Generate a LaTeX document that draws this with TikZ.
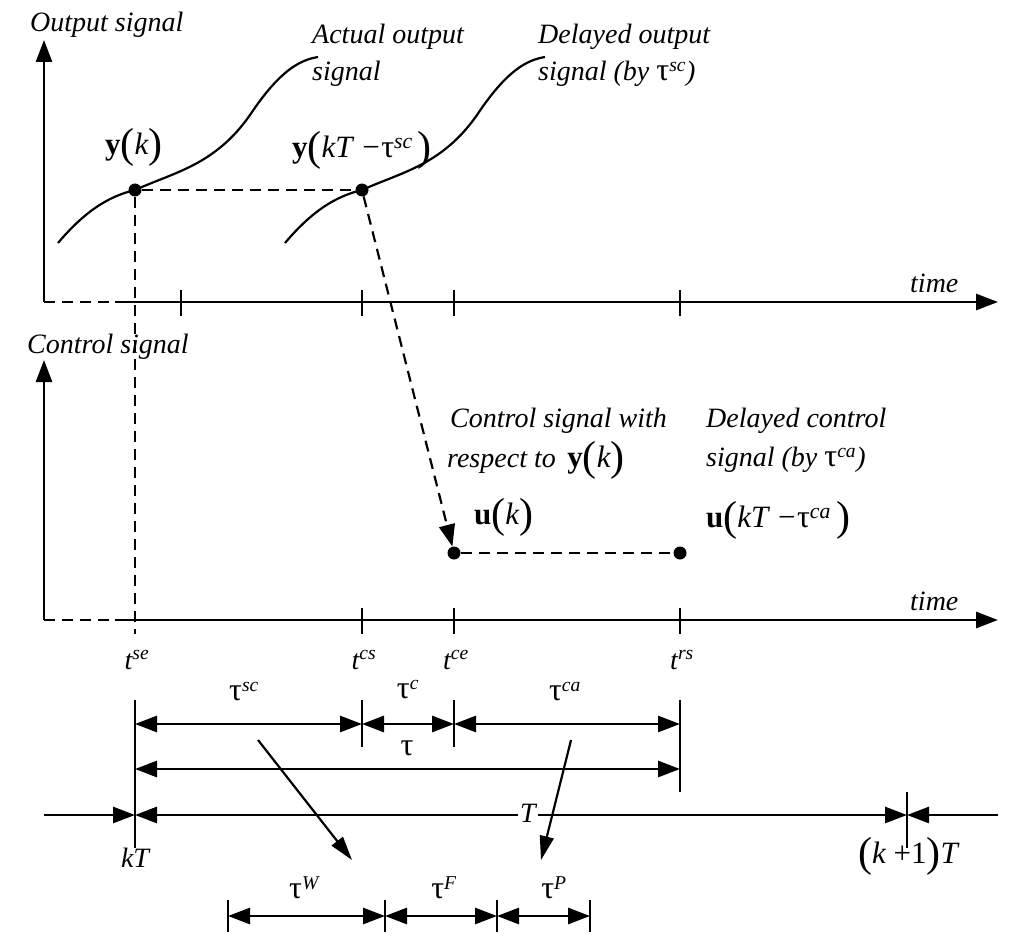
\documentclass[tikz,border=0pt]{standalone}
\usepackage{fontspec}
\setmainfont{Liberation Serif}
\usetikzlibrary{arrows.meta}
\newcommand{\tu}{{\upshape\fontsize{32}{32}\selectfont τ}}
\newcommand{\sups}[1]{\textsuperscript{\itshape #1}}
\newcommand{\lp}{{\upshape\fontsize{42}{42}\selectfont\raisebox{-3pt}{(}}}
\newcommand{\rp}{{\upshape\fontsize{42}{42}\selectfont\raisebox{-3pt}{)}}}
\newcommand{\bv}[1]{\textbf{\upshape #1}}
\tikzset{>={Triangle[length=22pt,width=16pt]}}
\begin{document}
\begin{tikzpicture}[x=1pt,y=-1pt,
  ax/.style={line width=2.8pt,->},
  thk/.style={line width=2.2pt},
  dsh/.style={line width=2.2pt,dash pattern=on 11pt off 7pt},
  dim/.style={line width=2.8pt,<->},
  txt/.style={font=\fontsize{28}{32}\selectfont\itshape,inner sep=0pt},
  big/.style={font=\fontsize{31}{32}\selectfont\itshape,inner sep=0pt},
  dot/.style={circle,fill=black,minimum size=13pt,inner sep=0pt}]
\useasboundingbox (0,0) rectangle (1019,941);
% top axis
\coordinate (o1) at (44,302); \coordinate (o1s) at (115,302);
\coordinate (e1) at (998,302); \coordinate (v1) at (44,40);
\draw[ax] (o1) -- (v1);
\draw[ax] (o1s) -- (e1);
\draw[dsh] (o1) -- (o1s);
\foreach \x in {181,362,454,680} \draw[thk] (\x,290) -- (\x,316);
% curves
\draw[thk] (58,243) .. controls (90,205) and (115,195) .. (135,190) .. controls (175,172) and (215,165) .. (250,115) .. controls (280,70) and (300,60) .. (318,57);
\draw[thk] (285,243) .. controls (317,205) and (342,195) .. (362,190) .. controls (402,172) and (442,165) .. (477,115) .. controls (507,70) and (527,60) .. (545,57);
\node[dot] (yk) at (135,190) {};
\node[dot] (yd) at (362,190) {};
\node[txt,anchor=west] (l1) at (30,25) {Output signal};
\node[txt,anchor=west] (l2) at (312,37) {Actual output};
\node[txt,anchor=west] (l3) at (312,74) {signal};
\node[txt,anchor=west] (l4) at (538,37) {Delayed output};
\node[txt,anchor=west] (l5) at (538,74) {signal (by \tu\sups{sc})};
\node[big,anchor=west] (l6) at (105,147) {\bv{y}\lp k\rp};
\node[big,anchor=west] (l7) at (292,150) {\bv{y}\lp kT −\tu\sups{sc}\,\rp};
\node[txt,anchor=west] (l8) at (910,283) {time};
% second axis
\coordinate (o2) at (44,620); \coordinate (o2s) at (115,620);
\coordinate (e2) at (998,620); \coordinate (v2) at (44,360);
\draw[ax] (o2) -- (v2);
\draw[ax] (o2s) -- (e2);
\draw[dsh] (o2) -- (o2s);
\foreach \x in {362,454,680} \draw[thk] (\x,608) -- (\x,634);
\node[txt,anchor=west] (l9) at (910,601) {time};
\node[txt,anchor=west] (l10) at (27,347) {Control signal};
\node[dot] (uk) at (454,553) {};
\node[dot] (ud) at (680,553) {};
\coordinate (se) at (135,634);
\draw[dsh] (yk) -- (yd);
\draw[dsh] (yk) -- (se);
\draw[dsh,->] (yd) -- (uk);
\draw[dsh] (uk) -- (ud);
\node[txt,anchor=west] (l11) at (450,421) {Control signal with};
\node[txt,anchor=west] (l12) at (447,460) {respect to \,{\fontsize{31}{32}\selectfont\bv{y}\lp k\rp}};
\node[txt,anchor=west] (l13) at (706,421) {Delayed control};
\node[txt,anchor=west] (l14) at (706,460) {signal (by \tu\sups{ca})};
\node[big,anchor=west] (l15) at (474,517) {\bv{u}\lp k\rp};
\node[big,anchor=west] (l16) at (706,520) {\bv{u}\lp kT −\tu\sups{ca}\,\rp};
\node[txt] (t1) at (137,660) {t\sups{se}};
\node[txt] (t2) at (364,660) {t\sups{cs}};
\node[txt] (t3) at (456,660) {t\sups{ce}};
\node[txt] (t4) at (682,660) {t\sups{rs}};
% bottom dimensions
\coordinate (a0) at (135,700); \coordinate (a1) at (135,848);
\draw[thk] (a0) -- (a1);
\draw[thk] (362,700) -- (362,747);
\draw[thk] (454,700) -- (454,747);
\draw[thk] (680,700) -- (680,792);
\draw[thk] (907,792) -- (907,848);
\coordinate (p1) at (135,724); \coordinate (p2) at (362,724);
\coordinate (p3) at (454,724); \coordinate (p4) at (680,724);
\draw[dim] (p1) -- (p2);
\draw[dim] (p2) -- (p3);
\draw[dim] (p3) -- (p4);
\coordinate (q1) at (135,769); \coordinate (q2) at (680,769);
\draw[dim] (q1) -- (q2);
\coordinate (r0) at (44,815); \coordinate (r1) at (135,815);
\coordinate (r2) at (907,815); \coordinate (r3) at (998,815);
\draw[line width=2.8pt,->] (r0) -- (r1);
\draw[dim] (r1) -- (r2);
\draw[line width=2.8pt,->] (r3) -- (r2);
\node[txt,fill=white,inner sep=2pt] (T) at (528,813) {T};
\node[txt] (kT) at (135,858) {kT};
\node[big] (k1T) at (908,856) {\lp k {\upshape +1}\rp T};
\node[txt] (ts) at (244,692) {\tu\sups{sc}};
\node[txt] (tc) at (408,690) {\tu\sups{c}};
\node[txt] (tca) at (565,692) {\tu\sups{ca}};
\node[txt] (tt) at (407,748) {\tu};
\coordinate (s1) at (258,740); \coordinate (s2) at (352,860);
\coordinate (s3) at (571,740); \coordinate (s4) at (541,860);
\draw[line width=2.2pt,-{Triangle[length=24pt,width=14pt]}] (s1) -- (s2);
\draw[line width=2.2pt,-{Triangle[length=24pt,width=14pt]}] (s3) -- (s4);
\foreach \x in {228,385,497,590} \draw[thk] (\x,900) -- (\x,932);
\coordinate (w1) at (228,916); \coordinate (w2) at (385,916);
\coordinate (w3) at (497,916); \coordinate (w4) at (590,916);
\draw[dim] (w1) -- (w2);
\draw[dim] (w2) -- (w3);
\draw[dim] (w3) -- (w4);
\node[txt] (tw) at (304,888) {\tu\sups{W}};
\node[txt] (tf) at (444,888) {\tu\sups{F}};
\node[txt] (tp) at (554,888) {\tu\sups{P}};
\end{tikzpicture}
\end{document}
